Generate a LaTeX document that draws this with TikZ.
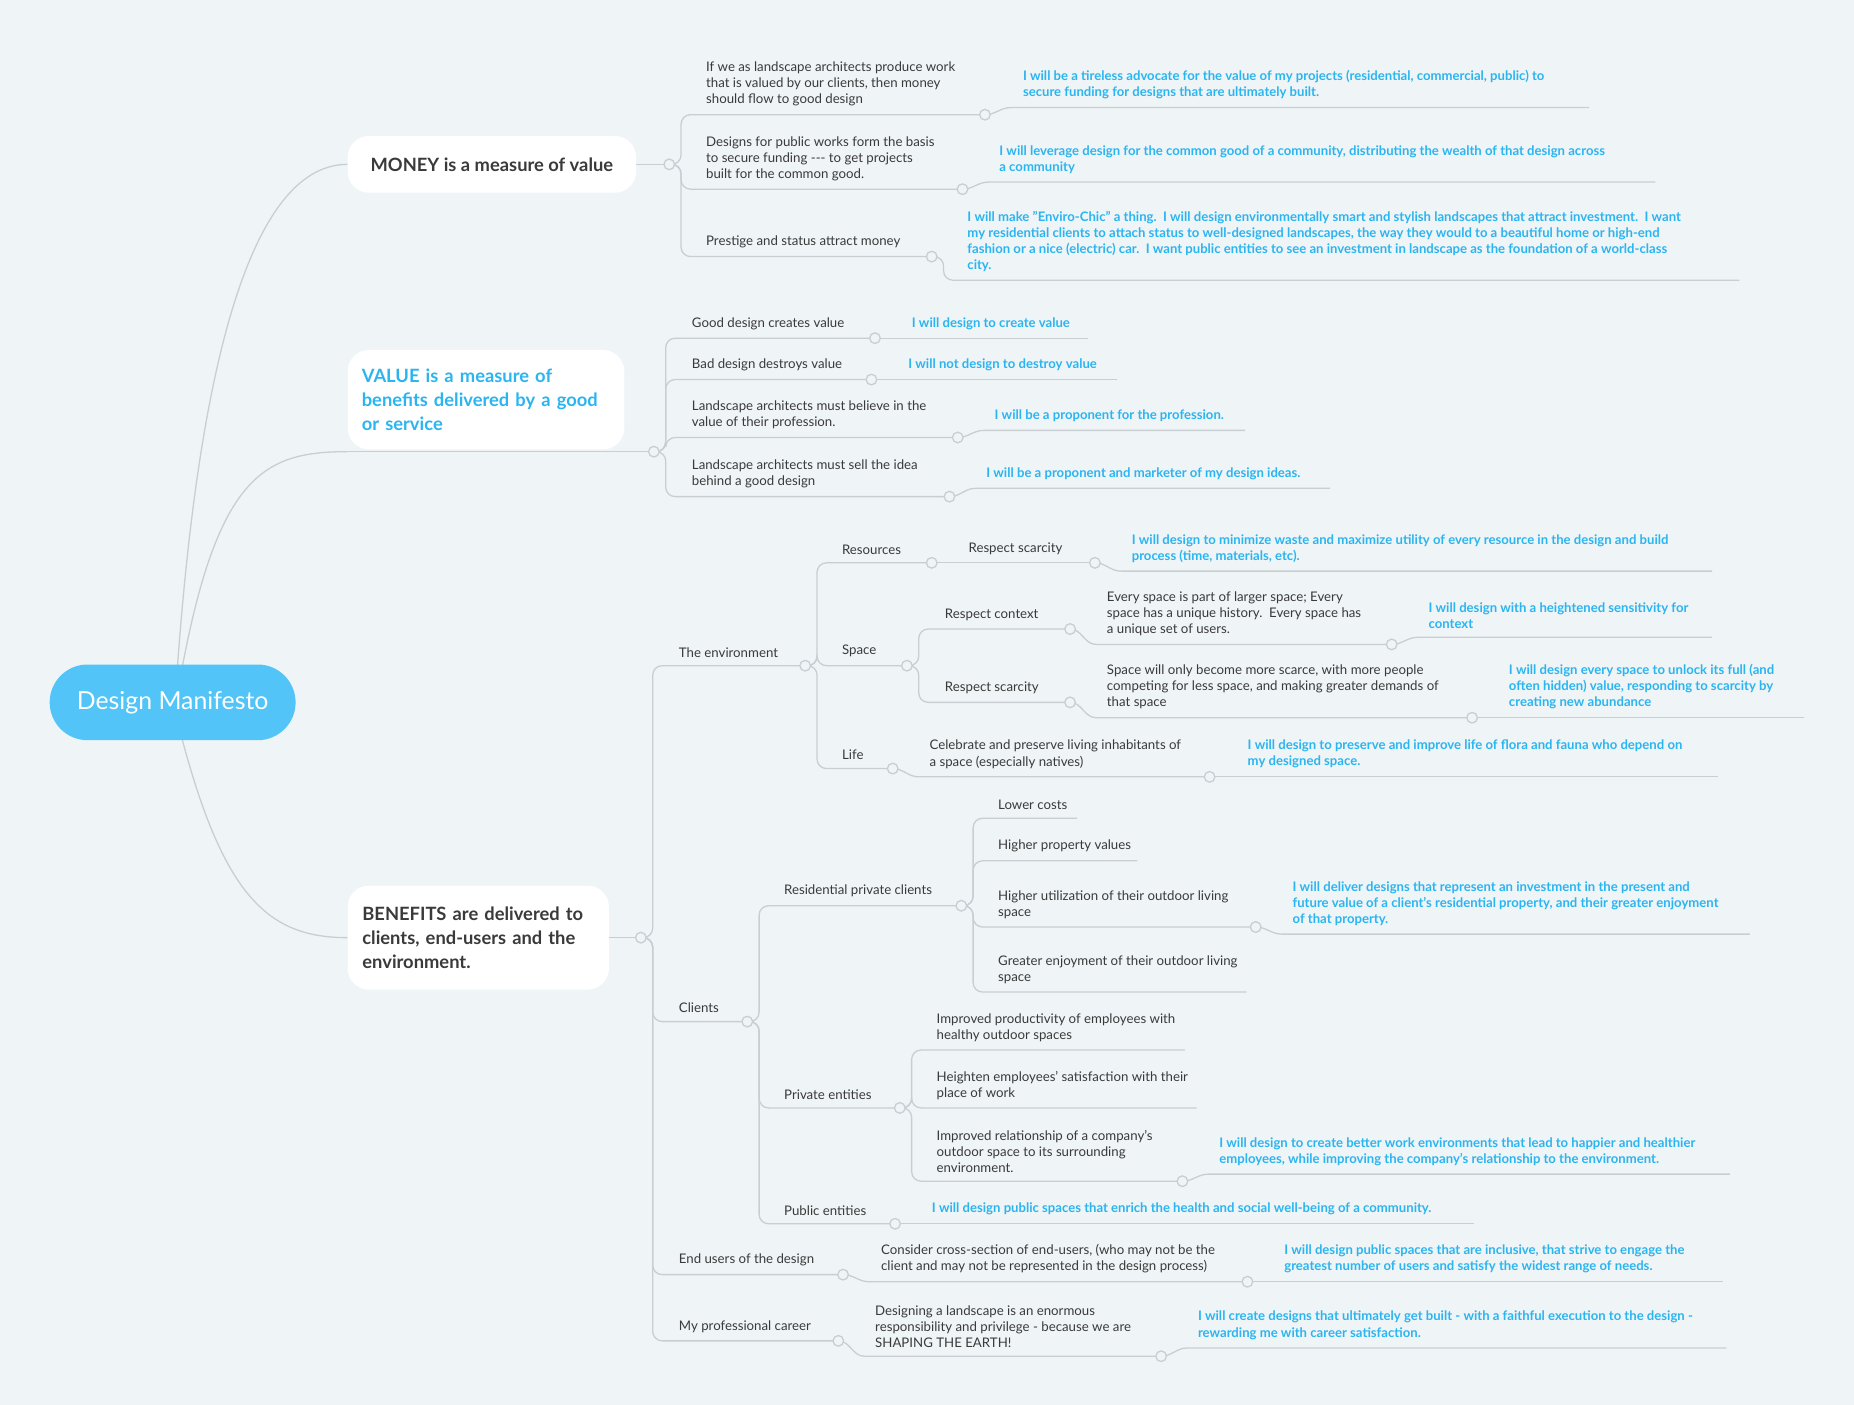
\documentclass[tikz,border=0pt]{standalone}
\usepackage{fontspec}
\setmainfont{Lato}
\definecolor{bg}{HTML}{EFF4F7}
\definecolor{ln}{HTML}{C9CED2}
\definecolor{bl}{HTML}{2BB5F0}
\definecolor{tx}{HTML}{3A3A3A}
\definecolor{root}{HTML}{52C4F7}
\tikzset{ln/.style={draw=ln,line width=1.1pt},
 tt/.style={anchor=south west,align=left,inner sep=0pt,text=tx,font=\fontsize{11.2}{13.6}\selectfont},
 bt/.style={tt,text=bl,font=\fontsize{11.1}{13.6}\selectfont\bfseries},
 mainbox/.style={fill=white,rounded corners=18pt,inner sep=0pt,align=left,font=\fontsize{15.5}{20}\selectfont\bfseries}}
\newcommand\J[3]{\coordinate (#1) at (#2,#3);}
\newcommand\C[3]{\draw[ln,rounded corners=8pt] (#1) -- ++(10,0) |- (#3,#2);}
\newcommand\Lr[2]{\draw[ln] (#1) -- (#2,0 |- #1);}
\newcommand\T[4]{\node[tt] (#1) at (#2,#3-7) {#4};}
\newcommand\B[4]{\node[bt] (#1) at (#2,#3-7) {#4};}
\newcommand\D[1]{\draw[ln,fill=bg] (#1) circle (4.5);}
\newcommand\Cs[5]{\draw[ln] (#1) to[out=0,in=180] (#2+22,#3) -- (#4,#3);}
\begin{document}
\begin{tikzpicture}[x=1pt,y=-1pt]
\fill[bg] (0,0) rectangle (1568,1188);
\useasboundingbox (0,0) rectangle (1568,1188);
% coordinates
\J{mc}{566}{139}\J{vc}{553}{382}\J{bc}{542}{793}
\J{m1}{833}{97}\J{m2}{814}{160}\J{m3}{788}{217}
\J{v1}{740}{286}\J{v2}{737}{321}\J{v3}{810}{370}\J{v4}{803}{420}
\J{env}{681}{563}\J{res}{788}{476}\J{rs}{926}{476}\J{sp}{767}{563}
\J{rc}{905}{532}\J{rc2}{1177}{545}\J{rsc}{905}{594}\J{rsc2}{1245}{607}
\J{life}{755}{650}\J{life2}{1023}{657}
\J{cli}{632}{864}\J{rpc}{813}{766}\J{hu}{1062}{784}\J{pe}{761}{937}
\J{ir}{1000}{999}\J{pub}{757}{1035}
\J{eu}{713}{1078}\J{eu2}{1055}{1084}\J{mp}{709}{1134}\J{mp2}{982}{1147}
% root curves
\draw[ln] (150,565) .. controls (172,260) and (225,139) .. (294,139);
\draw[ln] (154,565) .. controls (185,400) and (225,382) .. (294,382);
\draw[ln] (154,625) .. controls (190,760) and (228,793) .. (294,793);
\draw[ln] (294,139) -- (mc);
\draw[ln] (294,382) -- (vc);
\draw[ln] (294,793) -- (bc);
% connectors
\C{mc}{97}{833}\C{mc}{160}{814}\C{mc}{217}{788}
\Cs{m1}{833}{91}{1344}{}\Cs{m2}{814}{154}{1400}{}\C{m3}{237}{1471}
\C{vc}{286}{740}\C{vc}{321}{737}\C{vc}{370}{810}\C{vc}{420}{803}
\Lr{v1}{920}\Lr{v2}{945}\Cs{v3}{810}{364}{1053}{}\Cs{v4}{803}{413}{1125}{}
\C{bc}{563}{681}\C{bc}{864}{632}\C{bc}{1078}{713}\C{bc}{1134}{709}
\C{env}{476}{788}\C{env}{563}{767}\C{env}{650}{755}
\Lr{res}{926}\Cs{rs}{926}{483}{1448}{}
\C{sp}{532}{905}\C{sp}{594}{905}
\Cs{rc}{905}{545}{1177}{}\Cs{rc2}{1177}{539}{1448}{}
\Cs{rsc}{905}{607}{1245}{}\Lr{rsc2}{1526}
\Cs{life}{755}{657}{1023}{}\Lr{life2}{1453}
\C{cli}{766}{813}\C{cli}{937}{761}\C{cli}{1035}{757}
\C{rpc}{692}{911}\C{rpc}{728}{962}\C{rpc}{784}{1062}\C{rpc}{839}{1054}
\Cs{hu}{1062}{790}{1480}{}
\C{pe}{888}{1002}\C{pe}{937}{1012}\C{pe}{999}{1000}
\Cs{ir}{1000}{993}{1463}{}
\Lr{pub}{1247}
\Cs{eu}{713}{1084}{1055}{}\Lr{eu2}{1457}
\Cs{mp}{709}{1147}{982}{}\Cs{mp2}{982}{1140}{1460}{}
% circles
\foreach \n in {mc,vc,bc,m1,m2,m3,v1,v2,v3,v4,env,res,rs,sp,rc,rc2,rsc,rsc2,life,life2,cli,rpc,hu,pe,ir,pub,eu,eu2,mp,mp2}{\D{\n}}
% root
\node[fill=root,rounded corners=32pt,minimum width=208pt,minimum height=64pt,text=white,font=\fontsize{21}{24}\selectfont] (rootn) at (146,594) {Design Manifesto};
% main boxes
\node[mainbox,minimum width=244pt,minimum height=48pt,text=tx] (money) at (416,139) {MONEY is a measure of value};
\node[mainbox,minimum width=234pt,minimum height=84pt,text=bl,text width=210pt] (value) at (411,338) {VALUE is a measure of\\benefits delivered by a good\\or service};
\node[mainbox,minimum width=221pt,minimum height=88pt,text=tx,text width=196pt] (benefits) at (404.5,793) {BENEFITS are delivered to\\clients, end-users and the\\environment.};
% texts MONEY
\T{t1}{597}{97}{If we as landscape architects produce work\\that is valued by our clients, then money\\should flow to good design}
\B{b1}{865}{91}{I will be a tireless advocate for the value of my projects (residential, commercial, public) to\\secure funding for designs that are ultimately built.}
\T{t2}{597}{160}{Designs for public works form the basis\\to secure funding -{}-{}- to get projects\\built for the common good.}
\B{b2}{845}{154}{I will leverage design for the common good of a community, distributing the wealth of that design across\\a community}
\T{t3}{597}{217}{Prestige and status attract money}
\B{b3}{818}{237}{I will make "Enviro-Chic" a thing.\ \ I will design environmentally smart and stylish landscapes that attract investment.\ \ I want\\my residential clients to attach status to well-designed landscapes, the way they would to a beautiful home or high-end\\fashion or a nice (electric) car.\ \ I want public entities to see an investment in landscape as the foundation of a world-class\\city.}
% VALUE
\T{t4}{585}{286}{Good design creates value}
\B{b4}{771}{286}{I will design to create value}
\T{t5}{585}{321}{Bad design destroys value}
\B{b5}{768}{321}{I will not design to destroy value}
\T{t6}{585}{370}{Landscape architects must believe in the\\value of their profession.}
\B{b6}{841}{364}{I will be a proponent for the profession.}
\T{t7}{585}{420}{Landscape architects must sell the idea\\behind a good design}
\B{b7}{834}{413}{I will be a proponent and marketer of my design ideas.}
% environment
\T{t8}{574}{563}{The environment}
\T{t9}{712}{476}{Resources}
\T{t10}{819}{476}{Respect scarcity}
\B{b10}{957}{483}{I will design to minimize waste and maximize utility of every resource in the design and build\\process (time, materials, etc).}
\T{t11}{712}{563}{Space}
\T{t12}{799}{532}{Respect context}
\T{t13}{936}{545}{Every space is part of larger space; Every\\space has a unique history.\ \ Every space has\\a unique set of users.}
\B{b13}{1208}{539}{I will design with a heightened sensitivity for\\context}
\T{t14}{799}{594}{Respect scarcity}
\T{t15}{936}{607}{Space will only become more scarce, with more people\\competing for less space, and making greater demands of\\that space}
\B{b15}{1276}{607}{I will design every space to unlock its full (and\\often hidden) value, responding to scarcity by\\creating new abundance}
\T{t16}{712}{650}{Life}
\T{t17}{786}{657}{Celebrate and preserve living inhabitants of\\a space (especially natives)}
\B{b17}{1055}{657}{I will design to preserve and improve life of flora and fauna who depend on\\my designed space.}
% clients
\T{t18}{574}{864}{Clients}
\T{t19}{663}{766}{Residential private clients}
\T{t20}{844}{692}{Lower costs}
\T{t21}{844}{728}{Higher property values}
\T{t22}{844}{784}{Higher utilization of their outdoor living\\space}
\B{b22}{1093}{790}{I will deliver designs that represent an investment in the present and\\future value of a client's residential property, and their greater enjoyment\\of that property.}
\T{t23}{844}{839}{Greater enjoyment of their outdoor living\\space}
\T{t24}{663}{937}{Private entities}
\T{t25}{792}{888}{Improved productivity of employees with\\healthy outdoor spaces}
\T{t26}{792}{937}{Heighten employees' satisfaction with their\\place of work}
\T{t27}{792}{999}{Improved relationship of a company's\\outdoor space to its surrounding\\environment.}
\B{b27}{1031}{993}{I will design to create better work environments that lead to happier and healthier\\employees, while improving the company's relationship to the environment.}
\T{t28}{663}{1035}{Public entities}
\B{b28}{788}{1035}{I will design public spaces that enrich the health and social well-being of a community.}
% end users, career
\T{t29}{574}{1078}{End users of the design}
\T{t30}{745}{1084}{Consider cross-section of end-users, (who may not be the\\client and may not be represented in the design process)}
\B{b30}{1086}{1084}{I will design public spaces that are inclusive, that strive to engage the\\greatest number of users and satisfy the widest range of needs.}
\T{t31}{574}{1134}{My professional career}
\T{t32}{740}{1147}{Designing a landscape is an enormous\\responsibility and privilege - because we are\\SHAPING THE EARTH!}
\B{b32}{1013}{1140}{I will create designs that ultimately get built - with a faithful execution to the design -\\rewarding me with career satisfaction.}
\end{tikzpicture}
\end{document}
